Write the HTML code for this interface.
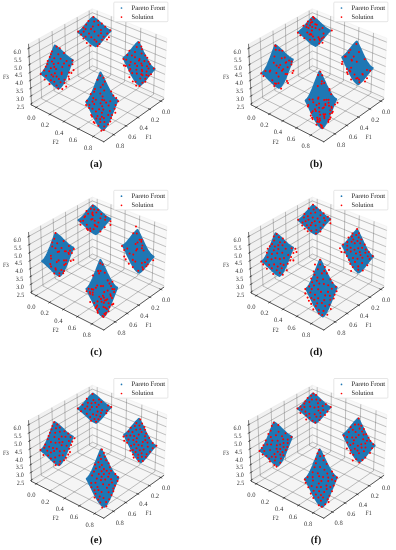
<!DOCTYPE html>
<html><head><meta charset="utf-8"><title>Figure</title>
<style>html,body{margin:0;padding:0;background:#fff}svg{display:block}text{font-family:"Liberation Serif",serif;text-rendering:geometricPrecision}</style>
</head><body>
<svg width="396" height="550" viewBox="0 0 396 550">
<rect width="396" height="550" fill="#fff"/>
<g transform="translate(0.0,0.0)">
<polygon points="92.5,67.2 31.5,105.0 103.8,141.8 163.8,99.0" fill="#f5f5f5" stroke="#e4e4e4" stroke-width="0.4"/>
<polygon points="31.5,105.0 28.5,44.2 92.3,8.8 92.5,67.2" fill="#f1f1f1" stroke="#e4e4e4" stroke-width="0.4"/>
<polygon points="92.5,67.2 92.3,8.8 166.9,38.2 163.8,99.0" fill="#f8f8f8" stroke="#e8e8e8" stroke-width="0.4"/>
<path d="M160.8 101.1 L89.5 69.1 L89.2 10.6 M36.2 107.4 L97.1 69.3 L97.2 10.7 M149.5 109.2 L78.0 76.2 L77.2 17.2 M49.9 114.4 L110.7 75.3 L111.3 16.3 M137.9 117.4 L66.2 83.5 L64.8 24.1 M64.0 121.5 L124.6 81.6 L125.9 22.0 M126.0 125.9 L54.1 91.0 L52.1 31.1 M78.5 128.9 L138.9 87.9 L140.8 27.9 M113.7 134.7 L41.7 98.7 L39.1 38.4 M93.3 136.4 L153.5 94.4 L156.1 34.0 M31.5 103.5 L92.5 65.8 L163.8 97.5 M31.1 95.9 L92.5 58.4 L164.2 89.9 M30.7 88.2 L92.5 51.0 L164.6 82.2 M30.3 80.4 L92.4 43.5 L165.0 74.4 M29.9 72.5 L92.4 35.9 L165.5 66.5 M29.5 64.5 L92.4 28.3 L165.9 58.5 M29.1 56.4 L92.4 20.5 L166.3 50.4 M28.7 48.3 L92.3 12.7 L166.7 42.2" fill="none" stroke="#5c5c5c" stroke-width="0.38" stroke-linejoin="round"/>
<path d="M31.5 105.0 L103.8 141.8 M103.8 141.8 L163.8 99.0" fill="none" stroke="#111" stroke-width="0.7" stroke-linecap="round"/>
<path d="M31.5 105.0 L28.5 44.2" fill="none" stroke="#222" stroke-width="0.55" stroke-linecap="round"/>
<path d="M159.4 100.5 L162.3 101.8 M37.6 106.5 L34.9 108.2 M148.1 108.5 L151.0 109.8 M51.3 113.5 L48.6 115.2 M136.5 116.8 L139.4 118.1 M65.3 120.6 L62.7 122.4 M124.6 125.2 L127.4 126.6 M79.8 128.0 L77.1 129.8 M112.3 133.9 L115.2 135.4 M94.6 135.5 L92.0 137.4 M30.1 47.5 L27.3 49.0 M30.5 55.7 L27.7 57.2 M30.9 63.7 L28.1 65.3 M31.3 71.7 L28.5 73.3 M31.7 79.6 L28.9 81.2 M32.1 87.4 L29.3 89.0 M32.5 95.1 L29.7 96.7 M32.8 102.7 L30.1 104.4" fill="none" stroke="#000" stroke-width="0.55"/>
<g font-size="6.6" text-anchor="middle" fill="#333">
<text x="166.2" y="113.7">0.0</text>
<text x="31.4" y="120.4">0.0</text>
<text x="155.1" y="121.6">0.2</text>
<text x="45.0" y="127.2">0.2</text>
<text x="143.6" y="129.9">0.4</text>
<text x="59.1" y="134.8">0.4</text>
<text x="132.3" y="139.1">0.6</text>
<text x="73.0" y="142.2">0.6</text>
<text x="120.1" y="147.9">0.8</text>
<text x="88.2" y="149.8">0.8</text>
<text x="17.2" y="53.8" textLength="7.6" lengthAdjust="spacingAndGlyphs">6.0</text>
<text x="17.7" y="61.6" textLength="7.6" lengthAdjust="spacingAndGlyphs">5.5</text>
<text x="18.1" y="69.5" textLength="7.6" lengthAdjust="spacingAndGlyphs">5.0</text>
<text x="18.6" y="77.3" textLength="7.6" lengthAdjust="spacingAndGlyphs">4.5</text>
<text x="19.1" y="85.2" textLength="7.6" lengthAdjust="spacingAndGlyphs">4.0</text>
<text x="19.6" y="93.0" textLength="7.6" lengthAdjust="spacingAndGlyphs">3.5</text>
<text x="20.0" y="100.8" textLength="7.6" lengthAdjust="spacingAndGlyphs">3.0</text>
<text x="20.5" y="108.7" textLength="7.6" lengthAdjust="spacingAndGlyphs">2.5</text>
<text x="5.8" y="78.6" textLength="5.8" lengthAdjust="spacingAndGlyphs">F3</text><text x="55.7" y="143.8" textLength="6.2" lengthAdjust="spacingAndGlyphs">F2</text><text x="148.5" y="139.1" textLength="6.2" lengthAdjust="spacingAndGlyphs">F1</text>
</g>
<polygon points="93.0,17.2 91.9,18.1 90.7,19.2 89.6,20.4 88.5,21.7 87.3,23.0 86.2,24.4 85.1,25.7 83.9,27.1 82.8,28.3 81.7,29.5 80.5,30.5 79.4,31.4 78.2,32.2 78.2,32.2 79.5,33.1 80.9,34.1 82.2,35.2 83.6,36.4 84.9,37.7 86.3,39.0 87.7,40.3 89.0,41.5 90.4,42.7 91.7,43.8 93.1,44.7 94.5,45.6 95.8,46.2 95.8,46.2 97.0,45.5 98.1,44.5 99.3,43.5 100.4,42.3 101.5,41.0 102.7,39.6 103.8,38.3 104.9,36.9 106.1,35.5 107.2,34.2 108.3,33.0 109.5,31.9 110.6,30.9 110.6,30.9 109.2,30.2 107.8,29.4 106.5,28.5 105.1,27.4 103.8,26.3 102.4,25.0 101.1,23.8 99.7,22.5 98.4,21.3 97.0,20.1 95.7,19.0 94.3,18.0 93.0,17.2" fill="#1f77b4" stroke="#1f77b4" stroke-width="2.1" stroke-linejoin="round"/>
<polygon points="138.2,42.1 137.1,43.2 136.0,44.3 134.9,45.6 133.7,46.9 132.6,48.3 131.5,49.8 130.3,51.2 129.2,52.6 128.0,53.9 126.9,55.1 125.7,56.2 124.6,57.2 123.5,58.0 123.5,58.0 124.7,60.4 126.0,62.9 127.3,65.5 128.5,68.1 129.8,70.7 131.0,73.3 132.3,75.7 133.6,78.0 134.8,80.0 136.1,81.8 137.4,83.3 138.7,84.4 140.0,85.2 140.0,85.2 141.2,84.3 142.3,83.3 143.4,82.2 144.5,80.9 145.7,79.6 146.8,78.2 147.9,76.7 149.0,75.3 150.2,73.9 151.3,72.5 152.4,71.2 153.5,70.0 154.6,69.0 154.6,69.0 153.3,68.2 152.0,67.1 150.7,65.7 149.4,63.9 148.2,61.9 146.9,59.7 145.7,57.3 144.5,54.7 143.2,52.1 142.0,49.5 140.7,47.0 139.5,44.5 138.2,42.1" fill="#1f77b4" stroke="#1f77b4" stroke-width="2.1" stroke-linejoin="round"/>
<polygon points="54.9,45.5 53.8,48.0 52.8,50.5 51.7,53.2 50.7,55.9 49.7,58.6 48.6,61.2 47.6,63.8 46.5,66.1 45.5,68.2 44.4,70.0 43.3,71.6 42.3,72.8 41.1,73.6 41.1,73.6 42.5,74.6 43.8,75.7 45.2,76.9 46.5,78.1 47.9,79.5 49.3,80.8 50.6,82.1 52.0,83.5 53.4,84.7 54.7,85.9 56.1,86.9 57.4,87.8 58.8,88.5 58.8,88.5 59.9,87.7 61.0,86.4 62.1,84.9 63.2,83.0 64.2,80.9 65.3,78.5 66.3,76.0 67.4,73.3 68.5,70.6 69.5,67.9 70.6,65.2 71.6,62.6 72.7,60.1 72.7,60.1 71.3,59.4 69.9,58.5 68.6,57.5 67.2,56.4 65.8,55.2 64.4,53.9 63.1,52.6 61.7,51.2 60.3,49.9 58.9,48.7 57.6,47.5 56.2,46.5 54.9,45.5" fill="#1f77b4" stroke="#1f77b4" stroke-width="2.1" stroke-linejoin="round"/>
<polygon points="100.5,72.5 99.4,75.1 98.3,77.7 97.2,80.5 96.1,83.3 95.0,86.1 93.9,88.8 92.8,91.4 91.7,93.8 90.6,96.0 89.5,97.9 88.4,99.5 87.3,100.8 86.2,101.7 86.2,101.7 87.6,104.1 88.9,106.7 90.2,109.4 91.5,112.0 92.8,114.7 94.1,117.3 95.4,119.8 96.7,122.1 98.0,124.2 99.3,126.1 100.6,127.6 101.9,128.8 103.3,129.6 103.3,129.6 104.3,128.7 105.4,127.4 106.5,125.8 107.6,123.8 108.7,121.6 109.8,119.2 110.9,116.6 112.0,113.9 113.1,111.1 114.2,108.4 115.3,105.6 116.4,102.9 117.5,100.4 117.5,100.4 116.1,99.6 114.8,98.4 113.5,96.9 112.2,95.1 110.9,93.0 109.6,90.7 108.3,88.2 107.0,85.6 105.7,82.9 104.4,80.2 103.1,77.5 101.8,75.0 100.5,72.5" fill="#1f77b4" stroke="#1f77b4" stroke-width="2.1" stroke-linejoin="round"/>
<path d="M93.4 17.0h0M88.5 21.1h0M94.2 21.4h0M98.1 20.8h0M86.2 24.5h0M92.8 26.5h0M98.4 25.0h0M101.8 23.6h0M83.4 27.6h0M85.6 29.1h0M91.1 29.1h0M105.2 26.8h0M78.2 31.6h0M83.7 31.6h0M94.5 31.6h0M101.0 29.9h0M110.1 30.2h0M89.0 33.6h0M101.0 33.3h0M107.2 33.5h0M81.1 34.4h0M98.4 35.6h0M85.6 36.7h0M91.3 37.3h0M103.6 36.7h0M83.4 38.4h0M108.9 37.3h0M94.5 39.8h0M102.1 39.8h0M107.0 39.5h0M96.4 41.6h0M86.8 43.0h0M90.5 45.8h0M97.6 46.1h0M99.5 44.1h0M56.6 46.6h0M59.8 48.2h0M52.0 51.4h0M64.0 53.1h0M50.9 54.2h0M58.3 54.2h0M49.8 57.0h0M54.3 58.2h0M60.6 58.8h0M72.5 60.5h0M66.6 61.0h0M47.7 61.0h0M52.0 61.4h0M47.3 63.9h0M53.8 63.9h0M58.3 63.3h0M64.0 63.5h0M72.5 64.2h0M69.1 65.6h0M45.8 66.7h0M54.3 67.0h0M62.3 67.0h0M50.9 68.2h0M56.0 69.0h0M44.1 70.5h0M49.2 71.2h0M73.6 70.1h0M61.7 72.4h0M54.9 73.2h0M69.1 72.6h0M71.4 73.0h0M40.7 73.9h0M51.5 74.7h0M61.7 74.1h0M46.1 75.8h0M53.2 76.4h0M56.6 76.6h0M68.5 76.6h0M58.9 79.0h0M69.1 79.0h0M44.7 79.5h0M50.9 80.3h0M64.5 79.8h0M54.3 81.8h0M60.6 82.3h0M49.5 84.1h0M64.5 83.0h0M66.2 86.6h0M56.6 85.5h0M58.3 88.6h0M62.3 89.1h0M139.0 42.4h0M136.8 46.9h0M141.3 46.4h0M129.4 50.7h0M135.0 52.0h0M141.9 49.2h0M141.6 53.5h0M127.3 54.9h0M131.9 55.5h0M145.3 55.5h0M123.5 58.9h0M126.2 59.8h0M135.0 57.2h0M139.6 59.1h0M139.0 60.6h0M147.3 57.7h0M144.4 61.1h0M130.7 62.0h0M148.5 61.7h0M135.0 63.4h0M141.3 63.4h0M149.8 64.0h0M123.9 65.5h0M125.7 65.9h0M129.6 65.1h0M137.1 65.9h0M142.1 65.5h0M147.0 66.2h0M153.8 68.5h0M130.3 69.1h0M129.4 70.8h0M136.4 69.7h0M141.9 69.7h0M148.5 68.5h0M142.1 71.1h0M146.6 71.4h0M132.2 73.1h0M136.8 73.6h0M141.3 74.2h0M142.4 75.3h0M146.4 75.0h0M148.5 75.7h0M151.0 74.2h0M129.4 77.3h0M140.2 78.4h0M145.3 78.8h0M132.8 81.4h0M135.6 81.8h0M142.4 82.7h0M145.3 81.8h0M136.2 85.6h0M139.6 85.9h0M100.3 75.6h0M103.5 77.8h0M97.5 79.7h0M104.8 81.6h0M102.9 84.8h0M100.6 87.3h0M95.0 88.9h0M104.2 90.5h0M94.2 91.8h0M111.1 91.4h0M100.3 93.4h0M90.8 94.1h0M113.3 95.6h0M102.6 96.5h0M93.3 98.1h0M116.2 98.1h0M95.9 99.8h0M102.2 99.8h0M104.2 100.3h0M87.0 100.7h0M92.5 101.6h0M110.3 101.3h0M118.1 101.3h0M100.6 103.2h0M106.1 102.6h0M89.5 104.9h0M86.1 105.1h0M94.2 104.1h0M115.6 104.9h0M108.6 105.5h0M102.2 106.2h0M89.2 107.9h0M92.5 108.7h0M99.1 109.2h0M103.3 109.6h0M114.6 108.7h0M109.9 110.9h0M95.9 111.5h0M101.9 112.8h0M115.3 112.8h0M91.2 115.0h0M92.1 116.6h0M97.5 115.9h0M108.2 115.0h0M112.0 115.0h0M101.9 116.8h0M103.9 118.1h0M96.3 118.5h0M100.1 119.1h0M111.1 118.1h0M93.7 121.9h0M94.6 122.9h0M100.3 121.9h0M104.4 121.9h0M110.3 121.4h0M108.0 124.5h0M98.4 125.7h0M104.2 126.5h0M101.4 130.6h0M103.9 129.9h0" stroke="#f00" stroke-width="2.05" stroke-linecap="round" fill="none"/>
<rect x="113.8" y="2.1" width="54.1" height="19.6" rx="0.9" fill="#fff" fill-opacity="0.8" stroke="#ccc" stroke-width="0.5"/>
<circle cx="121.5" cy="8" r="0.85" fill="#1f77b4"/><circle cx="121.5" cy="17.1" r="0.85" fill="#f00"/>
<g font-size="6.8" fill="#222"><text x="131.6" y="9.8" textLength="33.6" lengthAdjust="spacingAndGlyphs">Pareto Front</text><text x="131.6" y="18.6" textLength="22" lengthAdjust="spacingAndGlyphs">Solution</text></g>
<text x="96.1" y="166.9" font-size="10.5" font-weight="bold" text-anchor="middle" fill="#111">(a)</text>
</g>
<g transform="translate(220.0,0.0)">
<polygon points="92.5,67.2 31.5,105.0 103.8,141.8 163.8,99.0" fill="#f5f5f5" stroke="#e4e4e4" stroke-width="0.4"/>
<polygon points="31.5,105.0 28.5,44.2 92.3,8.8 92.5,67.2" fill="#f1f1f1" stroke="#e4e4e4" stroke-width="0.4"/>
<polygon points="92.5,67.2 92.3,8.8 166.9,38.2 163.8,99.0" fill="#f8f8f8" stroke="#e8e8e8" stroke-width="0.4"/>
<path d="M160.8 101.1 L89.5 69.1 L89.2 10.6 M36.2 107.4 L97.1 69.3 L97.2 10.7 M149.8 109.0 L78.3 76.1 L77.4 17.1 M49.3 114.1 L110.1 75.1 L110.7 16.1 M138.4 117.1 L66.7 83.2 L65.4 23.8 M62.8 120.9 L123.4 81.0 L124.6 21.5 M126.8 125.4 L54.9 90.5 L53.0 30.7 M76.6 127.9 L137.0 87.1 L138.9 27.2 M114.8 133.9 L42.7 98.1 L40.2 37.7 M90.7 135.1 L150.9 93.3 L153.5 32.9 M31.5 103.5 L92.5 65.8 L163.8 97.5 M31.1 95.9 L92.5 58.4 L164.2 89.9 M30.7 88.2 L92.5 51.0 L164.6 82.2 M30.3 80.4 L92.4 43.5 L165.0 74.4 M29.9 72.5 L92.4 35.9 L165.5 66.5 M29.5 64.5 L92.4 28.3 L165.9 58.5 M29.1 56.4 L92.4 20.5 L166.3 50.4 M28.7 48.3 L92.3 12.7 L166.7 42.2" fill="none" stroke="#5c5c5c" stroke-width="0.38" stroke-linejoin="round"/>
<path d="M31.5 105.0 L103.8 141.8 M103.8 141.8 L163.8 99.0" fill="none" stroke="#111" stroke-width="0.7" stroke-linecap="round"/>
<path d="M31.5 105.0 L28.5 44.2" fill="none" stroke="#222" stroke-width="0.55" stroke-linecap="round"/>
<path d="M159.4 100.5 L162.3 101.8 M37.6 106.5 L34.9 108.2 M148.3 108.3 L151.2 109.7 M50.7 113.2 L48.0 114.9 M137.0 116.4 L139.9 117.8 M64.1 120.0 L61.4 121.8 M125.3 124.7 L128.2 126.1 M77.9 127.0 L75.2 128.8 M113.4 133.2 L116.2 134.6 M92.0 134.2 L89.4 136.0 M30.1 47.5 L27.3 49.0 M30.5 55.7 L27.7 57.2 M30.9 63.7 L28.1 65.3 M31.3 71.7 L28.5 73.3 M31.7 79.6 L28.9 81.2 M32.1 87.4 L29.3 89.0 M32.5 95.1 L29.7 96.7 M32.8 102.7 L30.1 104.4" fill="none" stroke="#000" stroke-width="0.55"/>
<g font-size="6.6" text-anchor="middle" fill="#333">
<text x="166.2" y="113.7">0.0</text>
<text x="31.4" y="120.4">0.0</text>
<text x="155.3" y="121.5">0.2</text>
<text x="44.4" y="126.9">0.2</text>
<text x="144.1" y="129.6">0.4</text>
<text x="57.9" y="134.1">0.4</text>
<text x="133.1" y="138.6">0.6</text>
<text x="71.1" y="141.3">0.6</text>
<text x="121.2" y="147.2">0.8</text>
<text x="85.6" y="148.4">0.8</text>
<text x="17.2" y="53.8" textLength="7.6" lengthAdjust="spacingAndGlyphs">6.0</text>
<text x="17.7" y="61.6" textLength="7.6" lengthAdjust="spacingAndGlyphs">5.5</text>
<text x="18.1" y="69.5" textLength="7.6" lengthAdjust="spacingAndGlyphs">5.0</text>
<text x="18.6" y="77.3" textLength="7.6" lengthAdjust="spacingAndGlyphs">4.5</text>
<text x="19.1" y="85.2" textLength="7.6" lengthAdjust="spacingAndGlyphs">4.0</text>
<text x="19.6" y="93.0" textLength="7.6" lengthAdjust="spacingAndGlyphs">3.5</text>
<text x="20.0" y="100.8" textLength="7.6" lengthAdjust="spacingAndGlyphs">3.0</text>
<text x="20.5" y="108.7" textLength="7.6" lengthAdjust="spacingAndGlyphs">2.5</text>
<text x="5.8" y="78.6" textLength="5.8" lengthAdjust="spacingAndGlyphs">F3</text><text x="55.7" y="143.8" textLength="6.2" lengthAdjust="spacingAndGlyphs">F2</text><text x="148.5" y="139.1" textLength="6.2" lengthAdjust="spacingAndGlyphs">F1</text>
</g>
<polygon points="93.0,17.2 91.9,18.1 90.8,19.2 89.7,20.4 88.5,21.7 87.4,23.0 86.3,24.3 85.2,25.7 84.1,27.0 83.0,28.2 81.8,29.4 80.7,30.4 79.6,31.3 78.4,32.1 78.4,32.1 79.7,33.0 81.0,34.0 82.3,35.1 83.7,36.2 85.0,37.5 86.3,38.7 87.6,40.0 88.9,41.2 90.2,42.4 91.5,43.5 92.9,44.4 94.2,45.2 95.5,45.9 95.5,45.9 96.7,45.1 97.8,44.2 98.9,43.1 100.0,42.0 101.1,40.7 102.3,39.3 103.4,38.0 104.5,36.6 105.6,35.3 106.7,34.0 107.8,32.8 108.9,31.7 110.0,30.7 110.0,30.7 108.7,30.0 107.4,29.2 106.1,28.3 104.7,27.3 103.4,26.1 102.1,24.9 100.8,23.7 99.5,22.5 98.2,21.2 96.9,20.1 95.6,19.0 94.3,18.0 93.0,17.2" fill="#1f77b4" stroke="#1f77b4" stroke-width="2.1" stroke-linejoin="round"/>
<polygon points="136.8,41.6 135.7,42.6 134.6,43.7 133.5,45.0 132.4,46.3 131.3,47.7 130.1,49.1 129.0,50.5 127.9,51.9 126.8,53.2 125.6,54.4 124.5,55.5 123.4,56.5 122.3,57.3 122.3,57.3 123.5,59.6 124.7,62.1 125.9,64.7 127.2,67.3 128.4,69.9 129.6,72.4 130.8,74.8 132.0,77.1 133.3,79.1 134.5,80.8 135.8,82.3 137.0,83.4 138.3,84.1 138.3,84.1 139.4,83.3 140.5,82.3 141.6,81.2 142.7,80.0 143.8,78.6 144.9,77.2 146.1,75.8 147.2,74.4 148.3,73.0 149.4,71.6 150.5,70.4 151.6,69.2 152.7,68.1 152.7,68.1 151.4,67.4 150.1,66.3 148.9,64.9 147.7,63.2 146.4,61.2 145.2,59.0 144.0,56.6 142.8,54.1 141.6,51.5 140.4,48.9 139.2,46.4 138.0,43.9 136.8,41.6" fill="#1f77b4" stroke="#1f77b4" stroke-width="2.1" stroke-linejoin="round"/>
<polygon points="55.5,45.2 54.4,47.6 53.4,50.2 52.4,52.8 51.4,55.5 50.4,58.2 49.3,60.8 48.3,63.3 47.3,65.7 46.2,67.7 45.2,69.6 44.1,71.1 43.1,72.3 42.0,73.1 42.0,73.1 43.3,74.1 44.6,75.2 45.9,76.3 47.2,77.6 48.5,78.9 49.8,80.2 51.2,81.5 52.5,82.8 53.8,84.0 55.1,85.2 56.5,86.2 57.8,87.0 59.1,87.8 59.1,87.8 60.2,86.9 61.3,85.7 62.3,84.1 63.4,82.3 64.4,80.2 65.5,77.8 66.5,75.3 67.5,72.7 68.6,69.9 69.6,67.2 70.7,64.5 71.7,62.0 72.7,59.5 72.7,59.5 71.4,58.8 70.1,58.0 68.7,57.0 67.4,55.9 66.1,54.7 64.7,53.4 63.4,52.1 62.1,50.8 60.7,49.5 59.4,48.3 58.1,47.2 56.8,46.1 55.5,45.2" fill="#1f77b4" stroke="#1f77b4" stroke-width="2.1" stroke-linejoin="round"/>
<polygon points="99.6,71.5 98.6,74.0 97.5,76.7 96.4,79.4 95.3,82.2 94.3,85.0 93.2,87.7 92.1,90.3 91.0,92.7 90.0,94.9 88.9,96.8 87.8,98.4 86.7,99.6 85.7,100.5 85.7,100.5 86.9,102.9 88.2,105.4 89.5,108.1 90.7,110.7 92.0,113.4 93.3,116.0 94.5,118.4 95.8,120.7 97.1,122.8 98.3,124.6 99.6,126.1 100.8,127.3 102.1,128.1 102.1,128.1 103.2,127.2 104.3,125.9 105.3,124.3 106.4,122.4 107.5,120.2 108.5,117.8 109.6,115.2 110.7,112.5 111.8,109.8 112.8,107.0 113.9,104.3 115.0,101.6 116.1,99.1 116.1,99.1 114.8,98.3 113.5,97.2 112.2,95.7 111.0,93.9 109.7,91.8 108.5,89.5 107.2,87.1 105.9,84.5 104.7,81.8 103.4,79.1 102.2,76.5 100.9,73.9 99.6,71.5" fill="#1f77b4" stroke="#1f77b4" stroke-width="2.1" stroke-linejoin="round"/>
<path d="M93.0 17.0h0M94.2 18.5h0M91.1 19.7h0M87.9 21.4h0M90.8 22.7h0M92.2 21.9h0M95.3 24.2h0M96.8 24.8h0M83.4 25.7h0M86.8 24.2h0M90.0 25.3h0M86.5 27.0h0M88.5 28.0h0M92.2 27.0h0M95.6 28.0h0M102.5 28.0h0M99.5 29.5h0M91.9 30.5h0M111.8 30.5h0M77.9 32.7h0M87.3 32.5h0M90.8 33.9h0M89.6 34.4h0M91.3 34.8h0M103.6 33.6h0M80.5 35.2h0M93.0 36.4h0M98.4 37.3h0M103.6 37.3h0M84.3 38.2h0M99.3 39.0h0M101.8 38.6h0M90.0 39.8h0M94.5 39.8h0M99.8 40.5h0M99.3 43.5h0M102.5 42.7h0M55.2 45.5h0M55.8 46.2h0M55.8 49.7h0M59.4 50.2h0M62.3 50.8h0M54.5 56.5h0M61.7 58.2h0M64.8 57.6h0M69.1 60.5h0M71.6 61.6h0M53.8 62.7h0M65.7 62.7h0M66.2 62.2h0M71.4 64.4h0M56.6 65.6h0M60.2 65.0h0M58.9 67.5h0M67.6 67.3h0M63.2 69.3h0M62.0 70.7h0M45.5 70.9h0M50.3 70.5h0M49.8 71.6h0M73.4 70.7h0M72.5 73.0h0M41.2 73.3h0M56.4 73.0h0M65.5 73.9h0M67.2 74.1h0M43.5 76.1h0M58.6 76.6h0M52.3 80.3h0M67.0 80.9h0M54.9 83.4h0M56.0 83.8h0M58.5 83.2h0M68.0 83.0h0M54.3 86.0h0M61.1 88.6h0M136.4 43.9h0M130.3 49.8h0M139.0 52.0h0M128.8 52.6h0M125.0 56.6h0M125.7 56.4h0M133.7 56.6h0M144.7 59.2h0M131.6 59.8h0M131.9 60.6h0M136.8 61.7h0M122.3 61.7h0M122.0 64.0h0M131.1 67.7h0M126.9 68.9h0M147.0 70.0h0M150.2 70.8h0M129.6 70.5h0M130.3 71.4h0M127.1 72.3h0M127.7 73.9h0M134.5 74.5h0M142.4 73.9h0M142.8 74.5h0M136.2 78.4h0M137.5 78.0h0M139.0 79.5h0M147.0 78.2h0M131.1 79.5h0M139.4 82.2h0M145.0 81.4h0M100.3 71.8h0M98.1 74.9h0M102.2 75.3h0M101.9 81.2h0M104.2 82.9h0M101.6 83.8h0M97.8 86.1h0M109.5 88.9h0M109.5 90.5h0M111.1 94.3h0M98.4 97.5h0M98.1 98.8h0M89.5 99.4h0M92.7 99.4h0M104.2 100.0h0M106.4 99.8h0M108.6 99.8h0M93.3 102.3h0M108.6 102.8h0M99.1 103.6h0M105.4 103.9h0M117.5 102.8h0M115.0 104.5h0M96.5 105.1h0M105.4 104.9h0M109.0 105.8h0M88.3 104.9h0M87.9 106.4h0M99.1 107.7h0M103.9 107.4h0M102.6 108.3h0M111.5 106.7h0M111.8 107.9h0M95.0 109.2h0M95.9 110.9h0M92.7 111.2h0M110.3 110.2h0M99.3 111.7h0M112.8 111.7h0M91.4 112.8h0M112.0 113.0h0M109.9 113.8h0M100.1 114.7h0M103.5 114.3h0M105.2 114.3h0M90.8 115.6h0M104.2 116.3h0M110.5 117.2h0M92.1 117.8h0M92.7 119.1h0M97.2 117.8h0M99.7 118.5h0M104.4 118.1h0M109.9 118.9h0M97.8 119.8h0M100.1 120.4h0M108.6 120.1h0M97.2 121.7h0M99.1 121.9h0M108.2 121.9h0M96.5 124.8h0M100.6 124.8h0M101.9 125.7h0M101.4 126.7h0M102.6 128.0h0" stroke="#f00" stroke-width="2.05" stroke-linecap="round" fill="none"/>
<rect x="113.8" y="2.1" width="54.1" height="19.6" rx="0.9" fill="#fff" fill-opacity="0.8" stroke="#ccc" stroke-width="0.5"/>
<circle cx="121.5" cy="8" r="0.85" fill="#1f77b4"/><circle cx="121.5" cy="17.1" r="0.85" fill="#f00"/>
<g font-size="6.8" fill="#222"><text x="131.6" y="9.8" textLength="33.6" lengthAdjust="spacingAndGlyphs">Pareto Front</text><text x="131.6" y="18.6" textLength="22" lengthAdjust="spacingAndGlyphs">Solution</text></g>
<text x="96.1" y="166.9" font-size="10.5" font-weight="bold" text-anchor="middle" fill="#111">(b)</text>
</g>
<g transform="translate(0.0,188.2)">
<polygon points="92.5,67.2 31.5,105.0 103.8,141.8 163.8,99.0" fill="#f5f5f5" stroke="#e4e4e4" stroke-width="0.4"/>
<polygon points="31.5,105.0 28.5,44.2 92.3,8.8 92.5,67.2" fill="#f1f1f1" stroke="#e4e4e4" stroke-width="0.4"/>
<polygon points="92.5,67.2 92.3,8.8 166.9,38.2 163.8,99.0" fill="#f8f8f8" stroke="#e8e8e8" stroke-width="0.4"/>
<path d="M160.8 101.1 L89.5 69.1 L89.2 10.6 M36.2 107.4 L97.1 69.3 L97.2 10.7 M149.9 109.0 L78.3 76.0 L77.5 17.1 M49.6 114.2 L110.4 75.2 L111.0 16.2 M138.6 117.0 L66.9 83.1 L65.5 23.7 M63.3 121.2 L124.0 81.3 L125.2 21.8 M127.0 125.2 L55.1 90.4 L53.2 30.5 M77.4 128.4 L137.8 87.5 L139.7 27.5 M115.1 133.7 L43.0 97.9 L40.6 37.5 M91.9 135.7 L152.1 93.8 L154.7 33.4 M31.5 103.5 L92.5 65.8 L163.8 97.5 M31.1 95.9 L92.5 58.4 L164.2 89.9 M30.7 88.2 L92.5 51.0 L164.6 82.2 M30.3 80.4 L92.4 43.5 L165.0 74.4 M29.9 72.5 L92.4 35.9 L165.5 66.5 M29.5 64.5 L92.4 28.3 L165.9 58.5 M29.1 56.4 L92.4 20.5 L166.3 50.4 M28.7 48.3 L92.3 12.7 L166.7 42.2" fill="none" stroke="#5c5c5c" stroke-width="0.38" stroke-linejoin="round"/>
<path d="M31.5 105.0 L103.8 141.8 M103.8 141.8 L163.8 99.0" fill="none" stroke="#111" stroke-width="0.7" stroke-linecap="round"/>
<path d="M31.5 105.0 L28.5 44.2" fill="none" stroke="#222" stroke-width="0.55" stroke-linecap="round"/>
<path d="M159.4 100.5 L162.3 101.8 M37.6 106.5 L34.9 108.2 M148.4 108.3 L151.3 109.6 M50.9 113.3 L48.3 115.1 M137.1 116.3 L140.0 117.7 M64.7 120.3 L62.0 122.1 M125.6 124.5 L128.5 125.9 M78.7 127.5 L76.1 129.3 M113.7 133.0 L116.6 134.4 M93.2 134.8 L90.6 136.6 M30.1 47.5 L27.3 49.0 M30.5 55.7 L27.7 57.2 M30.9 63.7 L28.1 65.3 M31.3 71.7 L28.5 73.3 M31.7 79.6 L28.9 81.2 M32.1 87.4 L29.3 89.0 M32.5 95.1 L29.7 96.7 M32.8 102.7 L30.1 104.4" fill="none" stroke="#000" stroke-width="0.55"/>
<g font-size="6.6" text-anchor="middle" fill="#333">
<text x="166.2" y="113.7">0.0</text>
<text x="31.4" y="120.4">0.0</text>
<text x="155.4" y="121.4">0.2</text>
<text x="44.7" y="127.1">0.2</text>
<text x="144.3" y="129.5">0.4</text>
<text x="58.4" y="134.4">0.4</text>
<text x="133.3" y="138.4">0.6</text>
<text x="72.0" y="141.7">0.6</text>
<text x="121.5" y="147.0">0.8</text>
<text x="86.8" y="149.0">0.8</text>
<text x="17.2" y="53.8" textLength="7.6" lengthAdjust="spacingAndGlyphs">6.0</text>
<text x="17.7" y="61.6" textLength="7.6" lengthAdjust="spacingAndGlyphs">5.5</text>
<text x="18.1" y="69.5" textLength="7.6" lengthAdjust="spacingAndGlyphs">5.0</text>
<text x="18.6" y="77.3" textLength="7.6" lengthAdjust="spacingAndGlyphs">4.5</text>
<text x="19.1" y="85.2" textLength="7.6" lengthAdjust="spacingAndGlyphs">4.0</text>
<text x="19.6" y="93.0" textLength="7.6" lengthAdjust="spacingAndGlyphs">3.5</text>
<text x="20.0" y="100.8" textLength="7.6" lengthAdjust="spacingAndGlyphs">3.0</text>
<text x="20.5" y="108.7" textLength="7.6" lengthAdjust="spacingAndGlyphs">2.5</text>
<text x="5.8" y="78.6" textLength="5.8" lengthAdjust="spacingAndGlyphs">F3</text><text x="55.7" y="143.8" textLength="6.2" lengthAdjust="spacingAndGlyphs">F2</text><text x="148.5" y="139.1" textLength="6.2" lengthAdjust="spacingAndGlyphs">F1</text>
</g>
<polygon points="93.0,17.2 91.9,18.1 90.8,19.2 89.7,20.4 88.6,21.7 87.5,23.0 86.3,24.3 85.2,25.7 84.1,27.0 83.0,28.2 81.9,29.4 80.8,30.4 79.6,31.3 78.5,32.0 78.5,32.0 79.8,32.9 81.1,33.9 82.5,35.0 83.8,36.2 85.1,37.5 86.5,38.7 87.8,40.0 89.1,41.3 90.5,42.4 91.8,43.5 93.1,44.5 94.5,45.3 95.8,45.9 95.8,45.9 97.0,45.2 98.1,44.3 99.2,43.2 100.3,42.0 101.4,40.8 102.5,39.4 103.7,38.1 104.8,36.7 105.9,35.4 107.0,34.1 108.1,32.9 109.2,31.8 110.3,30.8 110.3,30.8 108.9,30.1 107.6,29.3 106.3,28.4 104.9,27.3 103.6,26.2 102.3,25.0 100.9,23.7 99.6,22.5 98.3,21.3 96.9,20.1 95.6,19.0 94.3,18.0 93.0,17.2" fill="#1f77b4" stroke="#1f77b4" stroke-width="2.1" stroke-linejoin="round"/>
<polygon points="137.5,41.8 136.4,42.9 135.3,44.0 134.2,45.2 133.0,46.6 131.9,47.9 130.8,49.4 129.7,50.8 128.6,52.1 127.5,53.5 126.3,54.7 125.2,55.8 124.1,56.7 123.0,57.5 123.0,57.5 124.2,59.9 125.5,62.4 126.7,64.9 127.9,67.6 129.2,70.2 130.4,72.7 131.7,75.1 132.9,77.4 134.2,79.4 135.4,81.2 136.7,82.6 138.0,83.7 139.2,84.5 139.2,84.5 140.3,83.7 141.4,82.7 142.5,81.6 143.7,80.3 144.8,79.0 145.9,77.6 147.0,76.2 148.1,74.7 149.2,73.3 150.3,72.0 151.4,70.7 152.5,69.6 153.5,68.5 153.5,68.5 152.3,67.8 151.0,66.7 149.7,65.2 148.5,63.5 147.2,61.5 146.0,59.3 144.8,56.9 143.6,54.4 142.4,51.8 141.1,49.2 139.9,46.6 138.7,44.2 137.5,41.8" fill="#1f77b4" stroke="#1f77b4" stroke-width="2.1" stroke-linejoin="round"/>
<polygon points="55.6,45.1 54.6,47.5 53.6,50.1 52.6,52.7 51.6,55.4 50.6,58.1 49.5,60.7 48.5,63.2 47.5,65.5 46.5,67.6 45.4,69.4 44.4,71.0 43.3,72.2 42.2,73.0 42.2,73.0 43.5,74.0 44.8,75.0 46.2,76.2 47.5,77.5 48.8,78.8 50.2,80.1 51.5,81.4 52.9,82.7 54.2,84.0 55.6,85.1 56.9,86.1 58.2,87.0 59.6,87.7 59.6,87.7 60.7,86.9 61.7,85.7 62.8,84.1 63.8,82.3 64.9,80.1 65.9,77.8 67.0,75.3 68.0,72.6 69.0,69.9 70.0,67.2 71.1,64.5 72.1,62.0 73.2,59.5 73.2,59.5 71.8,58.8 70.5,58.0 69.1,57.0 67.7,55.8 66.4,54.6 65.0,53.4 63.7,52.0 62.3,50.7 61.0,49.4 59.6,48.2 58.3,47.1 57.0,46.0 55.6,45.1" fill="#1f77b4" stroke="#1f77b4" stroke-width="2.1" stroke-linejoin="round"/>
<polygon points="100.4,71.7 99.4,74.2 98.3,76.9 97.2,79.6 96.2,82.4 95.1,85.2 94.0,87.9 93.0,90.4 91.9,92.8 90.8,95.0 89.8,96.9 88.7,98.5 87.6,99.8 86.5,100.7 86.5,100.7 87.8,103.1 89.1,105.6 90.4,108.3 91.7,110.9 93.0,113.6 94.2,116.2 95.5,118.7 96.8,121.0 98.1,123.0 99.4,124.8 100.6,126.4 101.9,127.5 103.2,128.4 103.2,128.4 104.3,127.4 105.4,126.2 106.4,124.6 107.5,122.6 108.5,120.5 109.6,118.1 110.7,115.5 111.8,112.8 112.8,110.1 113.9,107.3 115.0,104.6 116.1,101.9 117.1,99.4 117.1,99.4 115.8,98.6 114.5,97.5 113.2,96.0 112.0,94.2 110.7,92.1 109.4,89.8 108.1,87.3 106.8,84.7 105.6,82.0 104.3,79.3 103.0,76.7 101.7,74.1 100.4,71.7" fill="#1f77b4" stroke="#1f77b4" stroke-width="2.1" stroke-linejoin="round"/>
<path d="M92.7 17.5h0M90.8 20.6h0M94.2 21.2h0M98.1 21.7h0M86.5 22.9h0M92.5 24.3h0M92.2 25.7h0M96.4 24.3h0M88.1 25.5h0M93.0 27.1h0M101.3 25.7h0M85.1 28.0h0M84.5 29.1h0M105.5 28.6h0M100.4 30.0h0M92.5 30.8h0M91.3 31.2h0M105.2 31.6h0M83.1 32.5h0M80.5 33.1h0M94.7 32.5h0M110.4 33.1h0M98.4 34.2h0M80.5 36.5h0M86.8 36.5h0M94.7 36.5h0M95.3 37.6h0M97.2 38.4h0M110.4 36.8h0M104.7 39.1h0M86.8 40.5h0M90.2 40.3h0M93.6 41.1h0M87.9 41.8h0M100.4 43.3h0M90.4 42.8h0M55.5 44.9h0M54.3 50.6h0M63.6 52.9h0M52.3 54.3h0M57.2 55.1h0M52.3 58.2h0M68.9 57.8h0M55.5 60.0h0M61.5 59.7h0M73.9 60.8h0M57.7 63.7h0M59.1 63.4h0M64.8 63.1h0M65.9 63.1h0M70.0 62.5h0M68.5 64.6h0M68.9 65.7h0M71.9 64.8h0M50.9 67.6h0M51.1 70.3h0M58.6 72.2h0M64.0 72.2h0M66.2 72.2h0M56.8 73.9h0M70.8 72.8h0M73.4 71.8h0M50.3 75.9h0M65.9 75.6h0M64.3 76.7h0M51.1 78.4h0M55.5 80.1h0M55.8 81.6h0M61.4 81.8h0M64.0 82.8h0M54.3 85.3h0M59.4 85.0h0M63.2 85.0h0M59.4 87.8h0M136.0 38.2h0M133.3 45.0h0M136.8 45.3h0M139.6 51.6h0M141.6 51.6h0M141.3 53.6h0M137.5 54.3h0M135.6 55.8h0M142.4 57.3h0M122.0 57.8h0M127.3 60.4h0M141.9 60.0h0M137.1 60.7h0M136.2 62.3h0M124.2 61.8h0M143.6 62.3h0M129.6 65.3h0M133.3 66.4h0M124.2 68.3h0M125.7 71.2h0M132.8 71.7h0M147.5 71.2h0M153.2 72.1h0M135.3 73.4h0M145.0 74.0h0M141.9 74.8h0M128.8 75.5h0M147.8 76.3h0M146.4 78.0h0M132.8 78.9h0M142.4 79.1h0M143.0 81.2h0M138.2 82.5h0M100.3 75.1h0M102.6 76.3h0M98.1 82.7h0M100.6 82.7h0M99.1 85.2h0M104.8 84.6h0M93.0 87.4h0M107.7 92.2h0M112.4 93.5h0M109.5 95.4h0M97.2 97.3h0M101.0 97.9h0M103.1 97.9h0M111.1 97.9h0M95.9 99.6h0M88.6 100.5h0M91.7 100.9h0M93.3 101.4h0M112.4 100.9h0M114.3 101.1h0M86.6 103.0h0M107.7 102.4h0M89.9 103.9h0M92.7 104.3h0M104.2 103.9h0M114.1 103.9h0M90.2 105.6h0M92.7 106.5h0M110.3 106.2h0M102.9 107.5h0M110.8 107.7h0M99.3 108.5h0M103.9 109.4h0M112.0 109.8h0M101.0 110.7h0M107.3 111.0h0M106.1 111.9h0M104.8 112.3h0M97.5 113.2h0M101.6 113.6h0M90.2 113.8h0M103.9 114.5h0M94.2 114.8h0M108.6 115.1h0M113.3 115.7h0M112.0 116.6h0M97.2 117.4h0M96.3 118.7h0M103.5 118.7h0M109.5 118.7h0M95.5 119.9h0M105.4 119.6h0M99.1 120.8h0M106.9 120.8h0M97.5 122.7h0M108.6 123.0h0M97.8 124.6h0M106.1 124.6h0M104.4 125.5h0M105.4 126.5h0M102.6 127.8h0M103.5 128.8h0" stroke="#f00" stroke-width="2.05" stroke-linecap="round" fill="none"/>
<rect x="113.8" y="2.1" width="54.1" height="19.6" rx="0.9" fill="#fff" fill-opacity="0.8" stroke="#ccc" stroke-width="0.5"/>
<circle cx="121.5" cy="8" r="0.85" fill="#1f77b4"/><circle cx="121.5" cy="17.1" r="0.85" fill="#f00"/>
<g font-size="6.8" fill="#222"><text x="131.6" y="9.8" textLength="33.6" lengthAdjust="spacingAndGlyphs">Pareto Front</text><text x="131.6" y="18.6" textLength="22" lengthAdjust="spacingAndGlyphs">Solution</text></g>
<text x="96.1" y="166.9" font-size="10.5" font-weight="bold" text-anchor="middle" fill="#111">(c)</text>
</g>
<g transform="translate(220.0,188.2)">
<polygon points="92.5,67.2 31.5,105.0 103.8,141.8 163.8,99.0" fill="#f5f5f5" stroke="#e4e4e4" stroke-width="0.4"/>
<polygon points="31.5,105.0 28.5,44.2 92.3,8.8 92.5,67.2" fill="#f1f1f1" stroke="#e4e4e4" stroke-width="0.4"/>
<polygon points="92.5,67.2 92.3,8.8 166.9,38.2 163.8,99.0" fill="#f8f8f8" stroke="#e8e8e8" stroke-width="0.4"/>
<path d="M160.8 101.1 L89.5 69.1 L89.2 10.6 M36.2 107.4 L97.1 69.3 L97.2 10.7 M149.8 109.0 L78.3 76.0 L77.5 17.1 M49.5 114.1 L110.3 75.1 L110.9 16.1 M138.6 117.0 L66.8 83.1 L65.5 23.7 M63.1 121.0 L123.7 81.1 L124.9 21.7 M127.0 125.2 L55.1 90.4 L53.2 30.6 M77.0 128.1 L137.4 87.3 L139.3 27.3 M115.1 133.7 L43.0 97.9 L40.5 37.6 M91.3 135.4 L151.5 93.6 L154.1 33.1 M31.5 103.5 L92.5 65.8 L163.8 97.5 M31.1 95.9 L92.5 58.4 L164.2 89.9 M30.7 88.2 L92.5 51.0 L164.6 82.2 M30.3 80.4 L92.4 43.5 L165.0 74.4 M29.9 72.5 L92.4 35.9 L165.5 66.5 M29.5 64.5 L92.4 28.3 L165.9 58.5 M29.1 56.4 L92.4 20.5 L166.3 50.4 M28.7 48.3 L92.3 12.7 L166.7 42.2" fill="none" stroke="#5c5c5c" stroke-width="0.38" stroke-linejoin="round"/>
<path d="M31.5 105.0 L103.8 141.8 M103.8 141.8 L163.8 99.0" fill="none" stroke="#111" stroke-width="0.7" stroke-linecap="round"/>
<path d="M31.5 105.0 L28.5 44.2" fill="none" stroke="#222" stroke-width="0.55" stroke-linecap="round"/>
<path d="M159.4 100.5 L162.3 101.8 M37.6 106.5 L34.9 108.2 M148.4 108.3 L151.3 109.6 M50.8 113.3 L48.1 115.0 M137.1 116.3 L140.0 117.7 M64.4 120.2 L61.7 121.9 M125.5 124.5 L128.4 125.9 M78.3 127.2 L75.7 129.0 M113.6 133.0 L116.5 134.4 M92.6 134.5 L90.0 136.3 M30.1 47.5 L27.3 49.0 M30.5 55.7 L27.7 57.2 M30.9 63.7 L28.1 65.3 M31.3 71.7 L28.5 73.3 M31.7 79.6 L28.9 81.2 M32.1 87.4 L29.3 89.0 M32.5 95.1 L29.7 96.7 M32.8 102.7 L30.1 104.4" fill="none" stroke="#000" stroke-width="0.55"/>
<g font-size="6.6" text-anchor="middle" fill="#333">
<text x="166.2" y="113.7">0.0</text>
<text x="31.4" y="120.4">0.0</text>
<text x="155.4" y="121.4">0.2</text>
<text x="44.5" y="127.0">0.2</text>
<text x="144.2" y="129.5">0.4</text>
<text x="58.2" y="134.3">0.4</text>
<text x="133.3" y="138.5">0.6</text>
<text x="71.5" y="141.5">0.6</text>
<text x="121.4" y="147.0">0.8</text>
<text x="86.2" y="148.7">0.8</text>
<text x="17.2" y="53.8" textLength="7.6" lengthAdjust="spacingAndGlyphs">6.0</text>
<text x="17.7" y="61.6" textLength="7.6" lengthAdjust="spacingAndGlyphs">5.5</text>
<text x="18.1" y="69.5" textLength="7.6" lengthAdjust="spacingAndGlyphs">5.0</text>
<text x="18.6" y="77.3" textLength="7.6" lengthAdjust="spacingAndGlyphs">4.5</text>
<text x="19.1" y="85.2" textLength="7.6" lengthAdjust="spacingAndGlyphs">4.0</text>
<text x="19.6" y="93.0" textLength="7.6" lengthAdjust="spacingAndGlyphs">3.5</text>
<text x="20.0" y="100.8" textLength="7.6" lengthAdjust="spacingAndGlyphs">3.0</text>
<text x="20.5" y="108.7" textLength="7.6" lengthAdjust="spacingAndGlyphs">2.5</text>
<text x="5.8" y="78.6" textLength="5.8" lengthAdjust="spacingAndGlyphs">F3</text><text x="55.7" y="143.8" textLength="6.2" lengthAdjust="spacingAndGlyphs">F2</text><text x="148.5" y="139.1" textLength="6.2" lengthAdjust="spacingAndGlyphs">F1</text>
</g>
<polygon points="93.0,17.2 91.9,18.1 90.8,19.2 89.7,20.4 88.6,21.7 87.5,23.0 86.3,24.3 85.2,25.7 84.1,27.0 83.0,28.2 81.9,29.4 80.7,30.4 79.6,31.3 78.5,32.0 78.5,32.0 79.8,32.9 81.1,33.9 82.4,35.0 83.7,36.2 85.1,37.5 86.4,38.7 87.7,40.0 89.0,41.2 90.4,42.4 91.7,43.5 93.0,44.4 94.4,45.2 95.7,45.9 95.7,45.9 96.8,45.1 97.9,44.2 99.1,43.2 100.2,42.0 101.3,40.7 102.4,39.4 103.5,38.0 104.6,36.6 105.7,35.3 106.9,34.0 108.0,32.8 109.1,31.7 110.2,30.7 110.2,30.7 108.8,30.1 107.5,29.3 106.2,28.4 104.8,27.3 103.5,26.2 102.2,25.0 100.9,23.7 99.5,22.5 98.2,21.3 96.9,20.1 95.6,19.0 94.3,18.0 93.0,17.2" fill="#1f77b4" stroke="#1f77b4" stroke-width="2.1" stroke-linejoin="round"/>
<polygon points="137.1,41.7 136.0,42.7 134.9,43.9 133.8,45.1 132.7,46.4 131.6,47.8 130.5,49.2 129.4,50.6 128.2,52.0 127.1,53.3 126.0,54.5 124.9,55.6 123.8,56.6 122.6,57.4 122.6,57.4 123.9,59.7 125.1,62.2 126.3,64.8 127.6,67.4 128.8,70.0 130.0,72.6 131.3,75.0 132.5,77.2 133.7,79.2 135.0,81.0 136.2,82.4 137.5,83.6 138.8,84.3 138.8,84.3 139.9,83.5 141.0,82.5 142.1,81.4 143.2,80.2 144.3,78.8 145.4,77.4 146.5,76.0 147.6,74.6 148.7,73.2 149.8,71.8 150.9,70.5 152.0,69.4 153.1,68.3 153.1,68.3 151.8,67.6 150.6,66.5 149.3,65.1 148.1,63.3 146.8,61.3 145.6,59.1 144.4,56.7 143.2,54.2 142.0,51.6 140.8,49.0 139.6,46.5 138.4,44.0 137.1,41.7" fill="#1f77b4" stroke="#1f77b4" stroke-width="2.1" stroke-linejoin="round"/>
<polygon points="55.6,45.1 54.6,47.5 53.6,50.1 52.6,52.8 51.5,55.4 50.5,58.1 49.5,60.7 48.5,63.2 47.5,65.5 46.4,67.6 45.4,69.5 44.3,71.0 43.3,72.2 42.2,73.0 42.2,73.0 43.5,74.0 44.8,75.1 46.1,76.2 47.4,77.5 48.8,78.8 50.1,80.1 51.4,81.4 52.8,82.7 54.1,83.9 55.4,85.1 56.8,86.1 58.1,87.0 59.4,87.7 59.4,87.7 60.5,86.8 61.6,85.6 62.6,84.1 63.7,82.2 64.7,80.1 65.8,77.8 66.8,75.2 67.8,72.6 68.9,69.9 69.9,67.2 70.9,64.5 72.0,61.9 73.0,59.5 73.0,59.5 71.7,58.8 70.3,57.9 69.0,56.9 67.6,55.8 66.3,54.6 64.9,53.3 63.6,52.0 62.3,50.7 60.9,49.4 59.6,48.2 58.3,47.1 56.9,46.0 55.6,45.1" fill="#1f77b4" stroke="#1f77b4" stroke-width="2.1" stroke-linejoin="round"/>
<polygon points="100.1,71.6 99.0,74.1 98.0,76.8 96.9,79.5 95.8,82.3 94.7,85.0 93.7,87.7 92.6,90.3 91.5,92.7 90.5,94.9 89.4,96.8 88.3,98.4 87.3,99.6 86.2,100.5 86.2,100.5 87.4,102.9 88.7,105.5 90.0,108.1 91.3,110.8 92.6,113.4 93.8,116.0 95.1,118.5 96.4,120.8 97.6,122.9 98.9,124.7 100.2,126.2 101.5,127.4 102.8,128.2 102.8,128.2 103.8,127.3 104.9,126.0 105.9,124.4 107.0,122.5 108.1,120.3 109.1,117.9 110.2,115.3 111.3,112.6 112.4,109.9 113.4,107.1 114.5,104.4 115.6,101.7 116.7,99.2 116.7,99.2 115.4,98.4 114.1,97.3 112.8,95.8 111.5,94.0 110.3,91.9 109.0,89.6 107.7,87.1 106.5,84.5 105.2,81.9 103.9,79.2 102.6,76.6 101.4,74.0 100.1,71.6" fill="#1f77b4" stroke="#1f77b4" stroke-width="2.1" stroke-linejoin="round"/>
<path d="M93.0 16.6h0M88.8 20.3h0M93.6 21.2h0M96.4 19.5h0M100.2 22.1h0M90.8 25.1h0M95.3 24.3h0M84.5 25.7h0M103.6 25.1h0M87.9 28.0h0M100.4 27.1h0M107.8 28.6h0M83.9 29.3h0M92.7 29.3h0M97.6 30.3h0M104.0 29.7h0M78.2 31.6h0M88.5 31.6h0M105.0 32.3h0M110.1 31.4h0M85.6 33.1h0M94.7 33.1h0M99.5 33.7h0M82.5 34.2h0M91.9 34.6h0M110.4 35.0h0M86.8 37.1h0M90.8 37.1h0M95.6 37.3h0M103.6 36.5h0M82.2 37.3h0M100.6 39.6h0M88.8 39.6h0M84.7 40.5h0M96.4 41.8h0M91.3 42.5h0M87.7 43.0h0M100.4 43.3h0M96.1 45.3h0M56.6 45.7h0M53.8 48.3h0M58.9 49.1h0M62.8 50.3h0M54.1 52.3h0M60.0 54.0h0M64.8 54.0h0M52.0 55.9h0M58.3 57.1h0M62.5 57.1h0M49.8 58.0h0M54.9 58.2h0M71.6 60.0h0M47.7 60.5h0M58.3 60.8h0M65.7 60.5h0M75.3 60.5h0M53.8 62.0h0M76.5 63.7h0M46.9 64.6h0M57.2 65.0h0M62.3 64.6h0M73.4 64.8h0M52.0 65.7h0M68.2 66.8h0M47.7 69.1h0M55.5 69.9h0M64.0 69.9h0M71.1 68.8h0M59.8 70.7h0M51.5 71.1h0M70.2 72.2h0M73.4 72.2h0M41.2 73.3h0M46.1 73.0h0M54.1 76.2h0M60.6 75.6h0M67.7 75.6h0M43.2 76.2h0M49.2 76.7h0M63.6 76.7h0M57.7 78.4h0M51.8 80.1h0M46.9 80.5h0M61.7 80.1h0M56.8 82.1h0M66.8 82.1h0M59.8 84.7h0M53.2 85.8h0M62.8 86.6h0M137.1 40.7h0M132.5 45.3h0M139.0 45.0h0M136.2 46.7h0M128.5 49.3h0M131.9 48.4h0M138.7 49.3h0M133.3 51.3h0M141.3 51.3h0M127.3 53.9h0M131.6 53.6h0M137.5 52.8h0M134.8 55.0h0M140.2 55.0h0M123.1 56.4h0M144.7 56.4h0M120.0 60.0h0M127.3 57.5h0M130.7 59.6h0M138.2 60.0h0M142.1 59.6h0M127.3 61.5h0M134.5 61.5h0M145.8 61.2h0M121.4 63.8h0M124.6 64.1h0M130.7 63.4h0M139.8 63.8h0M148.9 63.8h0M136.0 65.3h0M145.3 64.6h0M140.5 66.8h0M126.9 67.8h0M147.8 68.0h0M152.7 67.8h0M133.0 69.8h0M142.4 69.5h0M137.5 70.6h0M129.1 71.7h0M149.6 70.9h0M135.0 73.7h0M142.1 74.8h0M130.3 75.7h0M147.3 77.1h0M138.2 78.2h0M132.8 78.9h0M138.2 81.6h0M142.8 82.3h0M131.1 82.8h0M100.1 71.6h0M95.0 76.3h0M100.1 76.3h0M104.8 78.9h0M109.0 81.8h0M97.8 81.0h0M104.2 82.7h0M93.7 83.3h0M101.9 85.2h0M106.9 85.2h0M94.6 86.5h0M97.5 89.4h0M103.1 91.0h0M91.2 90.3h0M96.8 92.5h0M110.3 91.2h0M92.1 94.1h0M99.3 95.4h0M103.9 95.8h0M112.4 94.5h0M94.0 97.3h0M108.2 97.1h0M89.2 98.3h0M115.8 98.6h0M85.3 100.9h0M91.7 100.9h0M98.1 101.1h0M111.8 100.5h0M101.0 103.7h0M108.0 103.7h0M116.6 103.0h0M90.4 104.3h0M85.3 105.2h0M95.0 106.5h0M105.2 107.2h0M109.9 107.5h0M114.6 106.5h0M87.6 109.4h0M91.4 109.8h0M98.1 110.0h0M113.7 110.3h0M94.2 111.5h0M104.2 111.9h0M110.3 111.5h0M88.9 112.6h0M97.2 115.1h0M101.9 114.8h0M91.2 115.7h0M109.5 116.6h0M95.9 117.9h0M105.2 117.9h0M110.8 120.8h0M93.3 121.2h0M98.8 121.7h0M103.5 122.7h0M98.8 125.3h0M102.2 126.8h0M107.3 126.5h0" stroke="#f00" stroke-width="2.05" stroke-linecap="round" fill="none"/>
<rect x="113.8" y="2.1" width="54.1" height="19.6" rx="0.9" fill="#fff" fill-opacity="0.8" stroke="#ccc" stroke-width="0.5"/>
<circle cx="121.5" cy="8" r="0.85" fill="#1f77b4"/><circle cx="121.5" cy="17.1" r="0.85" fill="#f00"/>
<g font-size="6.8" fill="#222"><text x="131.6" y="9.8" textLength="33.6" lengthAdjust="spacingAndGlyphs">Pareto Front</text><text x="131.6" y="18.6" textLength="22" lengthAdjust="spacingAndGlyphs">Solution</text></g>
<text x="96.1" y="166.9" font-size="10.5" font-weight="bold" text-anchor="middle" fill="#111">(d)</text>
</g>
<g transform="translate(0.0,376.4)">
<polygon points="92.5,67.2 31.5,105.0 103.8,141.8 163.8,99.0" fill="#f5f5f5" stroke="#e4e4e4" stroke-width="0.4"/>
<polygon points="31.5,105.0 28.5,44.2 92.3,8.8 92.5,67.2" fill="#f1f1f1" stroke="#e4e4e4" stroke-width="0.4"/>
<polygon points="92.5,67.2 92.3,8.8 166.9,38.2 163.8,99.0" fill="#f8f8f8" stroke="#e8e8e8" stroke-width="0.4"/>
<path d="M160.8 101.1 L89.5 69.1 L89.2 10.6 M36.2 107.4 L97.1 69.3 L97.2 10.7 M149.5 109.2 L77.9 76.3 L77.1 17.3 M50.3 114.5 L111.0 75.5 L111.7 16.5 M137.8 117.6 L66.0 83.6 L64.7 24.2 M64.7 121.9 L125.3 81.8 L126.6 22.3 M125.8 126.1 L53.8 91.2 L51.9 31.3 M79.5 129.4 L139.9 88.4 L141.9 28.3 M113.4 134.9 L41.3 99.0 L38.7 38.6 M94.7 137.2 L154.9 95.1 L157.6 34.5 M31.5 103.5 L92.5 65.8 L163.8 97.5 M31.1 95.9 L92.5 58.4 L164.2 89.9 M30.7 88.2 L92.5 51.0 L164.6 82.2 M30.3 80.4 L92.4 43.5 L165.0 74.4 M29.9 72.5 L92.4 35.9 L165.5 66.5 M29.5 64.5 L92.4 28.3 L165.9 58.5 M29.1 56.4 L92.4 20.5 L166.3 50.4 M28.7 48.3 L92.3 12.7 L166.7 42.2" fill="none" stroke="#5c5c5c" stroke-width="0.38" stroke-linejoin="round"/>
<path d="M31.5 105.0 L103.8 141.8 M103.8 141.8 L163.8 99.0" fill="none" stroke="#111" stroke-width="0.7" stroke-linecap="round"/>
<path d="M31.5 105.0 L28.5 44.2" fill="none" stroke="#222" stroke-width="0.55" stroke-linecap="round"/>
<path d="M159.4 100.5 L162.3 101.8 M37.6 106.5 L34.9 108.2 M148.0 108.6 L150.9 109.9 M51.6 113.7 L48.9 115.4 M136.3 116.9 L139.2 118.2 M66.0 121.0 L63.3 122.8 M124.3 125.4 L127.2 126.8 M80.8 128.5 L78.2 130.3 M112.0 134.2 L114.8 135.6 M96.0 136.2 L93.4 138.1 M30.1 47.5 L27.3 49.0 M30.5 55.7 L27.7 57.2 M30.9 63.7 L28.1 65.3 M31.3 71.7 L28.5 73.3 M31.7 79.6 L28.9 81.2 M32.1 87.4 L29.3 89.0 M32.5 95.1 L29.7 96.7 M32.8 102.7 L30.1 104.4" fill="none" stroke="#000" stroke-width="0.55"/>
<g font-size="6.6" text-anchor="middle" fill="#333">
<text x="166.2" y="113.7">0.0</text>
<text x="31.4" y="120.4">0.0</text>
<text x="155.0" y="121.7">0.2</text>
<text x="45.3" y="127.4">0.2</text>
<text x="143.4" y="130.1">0.4</text>
<text x="59.8" y="135.1">0.4</text>
<text x="132.1" y="139.3">0.6</text>
<text x="74.0" y="142.8">0.6</text>
<text x="119.8" y="148.2">0.8</text>
<text x="89.6" y="150.5">0.8</text>
<text x="17.2" y="53.8" textLength="7.6" lengthAdjust="spacingAndGlyphs">6.0</text>
<text x="17.7" y="61.6" textLength="7.6" lengthAdjust="spacingAndGlyphs">5.5</text>
<text x="18.1" y="69.5" textLength="7.6" lengthAdjust="spacingAndGlyphs">5.0</text>
<text x="18.6" y="77.3" textLength="7.6" lengthAdjust="spacingAndGlyphs">4.5</text>
<text x="19.1" y="85.2" textLength="7.6" lengthAdjust="spacingAndGlyphs">4.0</text>
<text x="19.6" y="93.0" textLength="7.6" lengthAdjust="spacingAndGlyphs">3.5</text>
<text x="20.0" y="100.8" textLength="7.6" lengthAdjust="spacingAndGlyphs">3.0</text>
<text x="20.5" y="108.7" textLength="7.6" lengthAdjust="spacingAndGlyphs">2.5</text>
<text x="5.8" y="78.6" textLength="5.8" lengthAdjust="spacingAndGlyphs">F3</text><text x="55.7" y="143.8" textLength="6.2" lengthAdjust="spacingAndGlyphs">F2</text><text x="148.5" y="139.1" textLength="6.2" lengthAdjust="spacingAndGlyphs">F1</text>
</g>
<polygon points="93.0,17.2 91.9,18.2 90.7,19.2 89.6,20.4 88.5,21.7 87.3,23.1 86.2,24.4 85.0,25.8 83.9,27.1 82.7,28.4 81.6,29.5 80.5,30.6 79.3,31.5 78.1,32.2 78.1,32.2 79.5,33.1 80.9,34.2 82.2,35.3 83.6,36.5 85.0,37.8 86.4,39.1 87.7,40.4 89.1,41.6 90.5,42.8 91.9,43.9 93.3,44.9 94.7,45.7 96.1,46.4 96.1,46.4 97.2,45.6 98.4,44.7 99.5,43.6 100.7,42.4 101.8,41.1 102.9,39.8 104.1,38.4 105.2,37.0 106.3,35.7 107.5,34.4 108.6,33.1 109.7,32.0 110.9,31.0 110.9,31.0 109.5,30.3 108.1,29.5 106.7,28.6 105.3,27.5 103.9,26.3 102.6,25.1 101.2,23.8 99.8,22.6 98.4,21.3 97.1,20.2 95.7,19.1 94.3,18.1 93.0,17.2" fill="#1f77b4" stroke="#1f77b4" stroke-width="2.1" stroke-linejoin="round"/>
<polygon points="139.0,42.4 137.9,43.5 136.8,44.7 135.6,45.9 134.5,47.3 133.3,48.7 132.2,50.1 131.1,51.5 129.9,52.9 128.8,54.3 127.6,55.5 126.5,56.6 125.3,57.6 124.2,58.4 124.2,58.4 125.5,60.8 126.7,63.3 128.0,65.9 129.3,68.5 130.6,71.2 131.9,73.7 133.2,76.2 134.5,78.5 135.8,80.5 137.1,82.3 138.4,83.8 139.7,84.9 141.0,85.7 141.0,85.7 142.2,84.8 143.3,83.8 144.4,82.7 145.6,81.4 146.7,80.1 147.8,78.7 149.0,77.2 150.1,75.8 151.2,74.3 152.3,73.0 153.5,71.7 154.6,70.5 155.7,69.4 155.7,69.4 154.3,68.7 153.0,67.5 151.7,66.1 150.4,64.3 149.1,62.3 147.9,60.1 146.6,57.7 145.3,55.1 144.1,52.5 142.8,49.9 141.6,47.3 140.3,44.8 139.0,42.4" fill="#1f77b4" stroke="#1f77b4" stroke-width="2.1" stroke-linejoin="round"/>
<polygon points="54.7,45.6 53.6,48.1 52.6,50.7 51.5,53.3 50.5,56.0 49.5,58.7 48.4,61.4 47.4,63.9 46.3,66.2 45.3,68.3 44.2,70.2 43.1,71.7 42.0,72.9 40.9,73.8 40.9,73.8 42.2,74.8 43.6,75.9 45.0,77.1 46.4,78.3 47.7,79.7 49.1,81.0 50.5,82.4 51.9,83.7 53.3,85.0 54.7,86.1 56.1,87.2 57.5,88.1 58.8,88.8 58.8,88.8 60.0,88.0 61.1,86.7 62.1,85.1 63.2,83.3 64.3,81.1 65.4,78.8 66.4,76.2 67.5,73.6 68.5,70.9 69.6,68.1 70.7,65.4 71.7,62.8 72.8,60.3 72.8,60.3 71.4,59.6 70.0,58.7 68.6,57.7 67.2,56.6 65.8,55.4 64.4,54.1 63.0,52.7 61.6,51.4 60.2,50.1 58.8,48.8 57.4,47.7 56.1,46.6 54.7,45.6" fill="#1f77b4" stroke="#1f77b4" stroke-width="2.1" stroke-linejoin="round"/>
<polygon points="101.1,73.0 100.0,75.5 98.9,78.2 97.8,81.0 96.7,83.8 95.6,86.6 94.5,89.3 93.4,91.9 92.3,94.3 91.2,96.5 90.1,98.4 89.0,100.1 87.9,101.3 86.8,102.3 86.8,102.3 88.1,104.7 89.4,107.3 90.8,109.9 92.1,112.6 93.4,115.3 94.7,117.9 96.1,120.5 97.4,122.8 98.7,124.9 100.1,126.7 101.4,128.3 102.7,129.5 104.1,130.3 104.1,130.3 105.2,129.4 106.3,128.1 107.3,126.4 108.4,124.5 109.5,122.3 110.6,119.9 111.7,117.3 112.8,114.6 113.9,111.8 115.0,109.0 116.2,106.2 117.3,103.6 118.4,101.0 118.4,101.0 117.0,100.2 115.7,99.0 114.3,97.5 113.0,95.7 111.7,93.6 110.3,91.3 109.0,88.7 107.7,86.1 106.4,83.4 105.0,80.7 103.7,78.0 102.4,75.5 101.1,73.0" fill="#1f77b4" stroke="#1f77b4" stroke-width="2.1" stroke-linejoin="round"/>
<path d="M92.5 17.6h0M86.8 22.3h0M93.4 23.5h0M99.0 23.0h0M87.9 26.4h0M91.5 26.9h0M95.3 26.4h0M101.3 25.5h0M82.5 28.4h0M98.7 28.4h0M87.3 30.1h0M91.9 30.6h0M96.8 30.6h0M77.9 32.1h0M85.1 32.3h0M108.1 29.1h0M111.2 30.6h0M90.0 33.2h0M102.1 33.5h0M107.0 34.0h0M81.1 34.8h0M97.6 35.2h0M86.8 37.4h0M93.0 37.8h0M101.0 36.6h0M106.3 36.9h0M96.4 38.9h0M90.2 40.5h0M100.2 40.1h0M94.5 42.6h0M98.4 42.8h0M91.1 44.3h0M96.1 45.4h0M54.1 45.9h0M57.2 48.1h0M52.3 49.6h0M59.8 51.0h0M56.0 51.9h0M51.5 53.0h0M64.5 54.9h0M59.8 55.3h0M50.0 56.4h0M55.2 56.4h0M68.2 57.2h0M48.6 59.5h0M54.5 60.6h0M61.7 60.1h0M65.5 60.3h0M70.5 60.6h0M74.5 61.8h0M47.7 62.9h0M58.9 62.6h0M72.3 65.2h0M68.9 64.6h0M50.9 65.7h0M55.5 66.3h0M59.4 66.0h0M62.5 65.5h0M45.2 68.0h0M71.1 68.6h0M61.7 68.9h0M66.6 69.4h0M49.2 70.3h0M44.3 71.4h0M53.0 71.6h0M56.8 72.3h0M69.1 72.3h0M40.5 73.7h0M47.3 74.3h0M54.1 74.6h0M59.8 74.8h0M64.3 74.3h0M50.9 76.0h0M70.0 75.7h0M68.2 78.2h0M43.5 78.5h0M48.1 79.1h0M59.4 79.1h0M62.8 78.8h0M55.2 81.1h0M65.9 81.4h0M50.9 82.2h0M64.0 83.9h0M54.3 85.3h0M60.2 85.1h0M55.7 88.5h0M59.4 88.2h0M140.2 43.1h0M136.4 46.5h0M142.1 47.1h0M134.8 49.6h0M139.4 49.1h0M144.4 50.5h0M130.7 51.4h0M136.2 53.4h0M140.2 52.8h0M145.0 53.4h0M128.5 55.1h0M132.5 55.6h0M141.6 55.6h0M146.2 57.1h0M138.7 58.2h0M126.5 59.4h0M130.3 59.0h0M134.1 59.6h0M123.5 60.2h0M145.0 59.8h0M136.8 61.9h0M149.2 61.6h0M128.5 63.2h0M133.3 63.6h0M145.3 63.6h0M124.2 64.4h0M136.4 65.3h0M142.8 65.5h0M147.5 66.2h0M127.1 66.4h0M152.7 66.6h0M134.1 68.1h0M138.5 68.5h0M141.9 69.3h0M156.4 69.3h0M131.1 69.3h0M147.8 70.4h0M136.4 71.9h0M152.7 71.9h0M130.3 74.1h0M132.8 73.5h0M139.8 73.8h0M143.6 73.2h0M135.6 75.7h0M150.0 75.3h0M141.6 76.9h0M138.2 78.4h0M133.0 78.0h0M146.6 77.8h0M141.9 80.3h0M133.7 81.2h0M137.9 81.4h0M145.8 80.6h0M138.7 84.6h0M142.8 84.6h0M101.9 73.2h0M103.9 76.5h0M99.7 79.1h0M104.8 80.3h0M101.0 82.5h0M106.1 83.8h0M98.4 85.9h0M108.6 86.9h0M95.0 88.2h0M101.9 88.5h0M99.7 90.5h0M109.9 90.8h0M95.9 92.0h0M103.9 92.7h0M106.7 94.3h0M111.1 94.3h0M94.0 95.2h0M101.6 94.8h0M98.8 97.7h0M103.9 97.7h0M109.2 97.1h0M115.3 97.7h0M92.1 99.0h0M101.6 100.3h0M108.2 100.3h0M96.8 102.2h0M117.9 100.9h0M101.0 103.7h0M105.2 103.2h0M111.1 102.8h0M117.5 104.5h0M91.2 106.6h0M95.5 106.3h0M112.0 106.0h0M103.1 107.9h0M109.0 108.3h0M115.0 109.2h0M97.5 110.5h0M91.4 110.8h0M106.9 111.3h0M113.3 112.1h0M94.6 113.9h0M98.4 113.6h0M101.6 115.5h0M108.6 115.9h0M113.3 114.9h0M95.5 117.4h0M111.5 118.7h0M99.7 120.0h0M94.6 121.0h0M103.5 121.5h0M109.2 122.8h0M98.1 123.2h0M106.1 125.7h0M100.3 126.1h0M102.2 131.2h0M106.4 129.9h0" stroke="#f00" stroke-width="2.05" stroke-linecap="round" fill="none"/>
<rect x="113.8" y="2.1" width="54.1" height="19.6" rx="0.9" fill="#fff" fill-opacity="0.8" stroke="#ccc" stroke-width="0.5"/>
<circle cx="121.5" cy="8" r="0.85" fill="#1f77b4"/><circle cx="121.5" cy="17.1" r="0.85" fill="#f00"/>
<g font-size="6.8" fill="#222"><text x="131.6" y="9.8" textLength="33.6" lengthAdjust="spacingAndGlyphs">Pareto Front</text><text x="131.6" y="18.6" textLength="22" lengthAdjust="spacingAndGlyphs">Solution</text></g>
<text x="96.1" y="166.9" font-size="10.5" font-weight="bold" text-anchor="middle" fill="#111">(e)</text>
</g>
<g transform="translate(220.0,376.4)">
<polygon points="92.5,67.2 31.5,105.0 103.8,141.8 163.8,99.0" fill="#f5f5f5" stroke="#e4e4e4" stroke-width="0.4"/>
<polygon points="31.5,105.0 28.5,44.2 92.3,8.8 92.5,67.2" fill="#f1f1f1" stroke="#e4e4e4" stroke-width="0.4"/>
<polygon points="92.5,67.2 92.3,8.8 166.9,38.2 163.8,99.0" fill="#f8f8f8" stroke="#e8e8e8" stroke-width="0.4"/>
<path d="M160.8 101.1 L89.5 69.1 L89.2 10.6 M36.2 107.4 L97.1 69.3 L97.2 10.7 M149.2 109.4 L77.7 76.4 L76.8 17.4 M49.9 114.4 L110.7 75.3 L111.3 16.3 M137.3 117.9 L65.5 83.9 L64.1 24.5 M64.0 121.5 L124.6 81.6 L125.9 22.0 M125.0 126.6 L53.1 91.7 L51.1 31.7 M78.5 128.9 L138.9 87.9 L140.8 27.9 M112.4 135.6 L40.3 99.6 L37.7 39.2 M93.3 136.4 L153.5 94.4 L156.1 34.0 M31.5 103.5 L92.5 65.8 L163.8 97.5 M31.1 95.9 L92.5 58.4 L164.2 89.9 M30.7 88.2 L92.5 51.0 L164.6 82.2 M30.3 80.4 L92.4 43.5 L165.0 74.4 M29.9 72.5 L92.4 35.9 L165.5 66.5 M29.5 64.5 L92.4 28.3 L165.9 58.5 M29.1 56.4 L92.4 20.5 L166.3 50.4 M28.7 48.3 L92.3 12.7 L166.7 42.2" fill="none" stroke="#5c5c5c" stroke-width="0.38" stroke-linejoin="round"/>
<path d="M31.5 105.0 L103.8 141.8 M103.8 141.8 L163.8 99.0" fill="none" stroke="#111" stroke-width="0.7" stroke-linecap="round"/>
<path d="M31.5 105.0 L28.5 44.2" fill="none" stroke="#222" stroke-width="0.55" stroke-linecap="round"/>
<path d="M159.4 100.5 L162.3 101.8 M37.6 106.5 L34.9 108.2 M147.8 108.7 L150.7 110.1 M51.3 113.5 L48.6 115.2 M135.8 117.2 L138.7 118.6 M65.3 120.6 L62.7 122.4 M123.6 125.9 L126.5 127.3 M79.8 128.0 L77.1 129.8 M111.0 134.9 L113.8 136.3 M94.6 135.5 L92.0 137.4 M30.1 47.5 L27.3 49.0 M30.5 55.7 L27.7 57.2 M30.9 63.7 L28.1 65.3 M31.3 71.7 L28.5 73.3 M31.7 79.6 L28.9 81.2 M32.1 87.4 L29.3 89.0 M32.5 95.1 L29.7 96.7 M32.8 102.7 L30.1 104.4" fill="none" stroke="#000" stroke-width="0.55"/>
<g font-size="6.6" text-anchor="middle" fill="#333">
<text x="166.2" y="113.7">0.0</text>
<text x="31.4" y="120.4">0.0</text>
<text x="154.8" y="121.9">0.2</text>
<text x="45.0" y="127.2">0.2</text>
<text x="143.0" y="130.4">0.4</text>
<text x="59.1" y="134.8">0.4</text>
<text x="131.3" y="139.9">0.6</text>
<text x="73.0" y="142.2">0.6</text>
<text x="118.7" y="148.9">0.8</text>
<text x="88.2" y="149.8">0.8</text>
<text x="17.2" y="53.8" textLength="7.6" lengthAdjust="spacingAndGlyphs">6.0</text>
<text x="17.7" y="61.6" textLength="7.6" lengthAdjust="spacingAndGlyphs">5.5</text>
<text x="18.1" y="69.5" textLength="7.6" lengthAdjust="spacingAndGlyphs">5.0</text>
<text x="18.6" y="77.3" textLength="7.6" lengthAdjust="spacingAndGlyphs">4.5</text>
<text x="19.1" y="85.2" textLength="7.6" lengthAdjust="spacingAndGlyphs">4.0</text>
<text x="19.6" y="93.0" textLength="7.6" lengthAdjust="spacingAndGlyphs">3.5</text>
<text x="20.0" y="100.8" textLength="7.6" lengthAdjust="spacingAndGlyphs">3.0</text>
<text x="20.5" y="108.7" textLength="7.6" lengthAdjust="spacingAndGlyphs">2.5</text>
<text x="5.8" y="78.6" textLength="5.8" lengthAdjust="spacingAndGlyphs">F3</text><text x="55.7" y="143.8" textLength="6.2" lengthAdjust="spacingAndGlyphs">F2</text><text x="148.5" y="139.1" textLength="6.2" lengthAdjust="spacingAndGlyphs">F1</text>
</g>
<polygon points="93.0,17.2 91.8,18.2 90.7,19.3 89.5,20.5 88.4,21.8 87.2,23.1 86.1,24.5 84.9,25.8 83.8,27.2 82.6,28.4 81.4,29.6 80.3,30.7 79.1,31.6 77.9,32.3 77.9,32.3 79.3,33.3 80.6,34.3 82.0,35.4 83.3,36.6 84.7,37.9 86.0,39.1 87.4,40.4 88.7,41.7 90.1,42.9 91.5,43.9 92.8,44.9 94.2,45.7 95.6,46.4 95.6,46.4 96.7,45.6 97.9,44.7 99.0,43.6 100.2,42.4 101.4,41.1 102.5,39.7 103.7,38.3 104.8,36.9 106.0,35.6 107.1,34.3 108.3,33.0 109.4,31.9 110.6,30.9 110.6,30.9 109.2,30.2 107.8,29.4 106.5,28.5 105.1,27.4 103.8,26.3 102.4,25.0 101.1,23.8 99.7,22.5 98.4,21.3 97.0,20.1 95.7,19.0 94.3,18.0 93.0,17.2" fill="#1f77b4" stroke="#1f77b4" stroke-width="2.1" stroke-linejoin="round"/>
<polygon points="138.2,42.1 137.1,43.2 136.0,44.4 134.8,45.6 133.6,47.0 132.5,48.4 131.3,49.8 130.2,51.3 129.0,52.7 127.8,54.0 126.7,55.3 125.5,56.4 124.3,57.4 123.2,58.2 123.2,58.2 124.5,60.6 125.7,63.1 127.0,65.7 128.2,68.3 129.5,70.9 130.8,73.5 132.0,75.9 133.3,78.2 134.6,80.2 135.8,82.0 137.1,83.4 138.4,84.6 139.8,85.3 139.8,85.3 140.9,84.5 142.0,83.5 143.2,82.3 144.3,81.1 145.5,79.7 146.6,78.3 147.8,76.8 148.9,75.4 150.1,73.9 151.2,72.5 152.4,71.2 153.5,70.0 154.6,69.0 154.6,69.0 153.3,68.2 152.0,67.1 150.7,65.7 149.4,63.9 148.2,61.9 146.9,59.7 145.7,57.3 144.5,54.7 143.2,52.1 142.0,49.5 140.7,47.0 139.5,44.5 138.2,42.1" fill="#1f77b4" stroke="#1f77b4" stroke-width="2.1" stroke-linejoin="round"/>
<polygon points="54.1,46.0 53.0,48.4 52.0,51.0 50.9,53.7 49.9,56.4 48.8,59.1 47.7,61.8 46.7,64.3 45.6,66.6 44.5,68.8 43.4,70.6 42.3,72.2 41.2,73.4 40.1,74.2 40.1,74.2 41.4,75.2 42.8,76.3 44.1,77.5 45.5,78.8 46.8,80.1 48.2,81.4 49.6,82.8 50.9,84.1 52.3,85.3 53.7,86.5 55.0,87.5 56.4,88.4 57.8,89.2 57.8,89.2 58.9,88.3 60.0,87.0 61.1,85.5 62.2,83.6 63.3,81.4 64.4,79.1 65.5,76.5 66.5,73.8 67.6,71.1 68.7,68.4 69.8,65.6 70.9,63.0 71.9,60.5 71.9,60.5 70.6,59.8 69.2,59.0 67.8,58.0 66.4,56.8 65.1,55.6 63.7,54.3 62.3,53.0 60.9,51.7 59.6,50.4 58.2,49.1 56.8,48.0 55.5,46.9 54.1,46.0" fill="#1f77b4" stroke="#1f77b4" stroke-width="2.1" stroke-linejoin="round"/>
<polygon points="99.7,73.0 98.6,75.6 97.5,78.2 96.4,81.0 95.3,83.8 94.1,86.6 93.0,89.4 91.9,92.0 90.8,94.4 89.7,96.6 88.6,98.5 87.5,100.2 86.3,101.5 85.2,102.4 85.2,102.4 86.5,104.8 87.8,107.4 89.1,110.0 90.5,112.7 91.8,115.4 93.1,118.0 94.4,120.5 95.7,122.8 97.0,124.9 98.3,126.8 99.6,128.3 100.9,129.5 102.2,130.3 102.2,130.3 103.4,129.4 104.5,128.1 105.6,126.4 106.7,124.5 107.8,122.3 108.9,119.8 110.0,117.2 111.1,114.5 112.3,111.7 113.4,108.9 114.5,106.1 115.6,103.5 116.7,100.9 116.7,100.9 115.4,100.1 114.1,98.9 112.8,97.4 111.5,95.6 110.2,93.5 108.8,91.2 107.5,88.7 106.2,86.1 104.9,83.4 103.6,80.7 102.3,78.0 101.0,75.4 99.7,73.0" fill="#1f77b4" stroke="#1f77b4" stroke-width="2.1" stroke-linejoin="round"/>
<path d="M93.4 17.0h0M91.1 19.3h0M96.1 18.5h0M87.7 21.5h0M91.9 23.0h0M96.4 23.2h0M100.2 23.8h0M85.4 24.9h0M89.3 25.7h0M105.9 27.8h0M84.3 27.2h0M97.9 26.9h0M80.5 30.1h0M84.5 30.6h0M90.2 30.1h0M94.5 31.0h0M98.4 30.6h0M102.7 29.5h0M110.6 30.6h0M77.5 32.1h0M81.7 33.2h0M103.2 33.5h0M98.4 34.0h0M85.4 35.2h0M107.5 35.2h0M80.5 36.6h0M89.3 37.4h0M94.7 37.8h0M100.4 36.6h0M86.2 38.9h0M105.0 38.6h0M96.4 40.3h0M100.6 40.1h0M89.6 41.4h0M86.2 43.1h0M99.5 43.5h0M92.5 44.3h0M95.3 46.2h0M53.8 46.4h0M58.3 48.7h0M51.8 49.6h0M50.7 54.4h0M58.6 55.3h0M65.5 56.9h0M48.4 57.6h0M56.0 58.9h0M62.0 59.8h0M71.4 60.6h0M50.9 60.6h0M63.2 62.9h0M67.7 63.2h0M45.8 64.0h0M52.3 64.0h0M57.7 64.4h0M63.6 66.6h0M67.7 66.6h0M47.3 68.0h0M51.1 68.0h0M60.2 68.0h0M56.8 68.9h0M43.5 68.9h0M63.6 70.5h0M67.4 70.5h0M41.8 71.6h0M50.0 73.5h0M56.6 72.3h0M60.2 72.6h0M65.9 73.7h0M39.5 74.6h0M44.3 74.6h0M57.7 75.4h0M62.5 75.7h0M54.5 77.7h0M60.2 78.2h0M42.7 78.0h0M63.4 78.8h0M46.4 79.6h0M51.8 80.3h0M55.7 80.7h0M49.2 82.2h0M60.9 82.2h0M54.9 84.1h0M50.0 85.1h0M60.2 86.4h0M54.3 88.5h0M56.6 90.2h0M138.7 42.0h0M135.0 48.2h0M138.5 48.0h0M141.3 49.4h0M130.7 50.7h0M139.6 52.2h0M143.9 52.6h0M132.8 53.4h0M128.8 55.6h0M135.6 55.6h0M142.1 55.1h0M123.7 59.0h0M138.7 58.5h0M143.6 58.2h0M146.2 57.9h0M127.1 60.7h0M132.2 61.0h0M136.0 61.0h0M148.5 61.3h0M143.2 62.8h0M133.9 63.9h0M147.0 64.4h0M150.4 64.7h0M127.3 66.2h0M133.3 67.0h0M141.3 67.8h0M145.3 67.0h0M130.3 68.5h0M153.2 67.8h0M137.9 69.3h0M141.6 71.2h0M145.5 71.0h0M152.1 71.9h0M126.9 72.1h0M134.8 72.3h0M130.7 73.8h0M137.5 74.1h0M143.9 74.9h0M130.3 76.9h0M139.0 76.9h0M150.0 76.6h0M133.3 78.4h0M145.3 81.0h0M136.2 82.9h0M132.8 84.0h0M142.4 83.7h0M139.4 86.0h0M99.3 73.6h0M97.5 77.0h0M100.1 79.9h0M103.9 79.3h0M95.9 82.5h0M103.5 83.8h0M106.7 87.6h0M95.9 86.9h0M94.6 90.8h0M100.1 90.5h0M104.4 93.3h0M112.0 95.2h0M92.7 95.8h0M97.8 96.9h0M107.3 97.1h0M113.3 99.0h0M87.6 100.7h0M92.7 100.7h0M99.1 99.9h0M103.1 100.7h0M116.9 101.2h0M108.2 101.2h0M84.8 103.2h0M93.0 104.1h0M101.4 104.5h0M112.0 103.2h0M108.2 104.7h0M115.3 104.7h0M85.7 106.3h0M98.8 107.0h0M113.7 109.2h0M91.7 109.6h0M96.8 110.8h0M101.0 110.5h0M106.4 109.2h0M110.3 110.5h0M88.3 110.8h0M106.7 112.6h0M93.7 114.3h0M99.1 114.9h0M104.2 115.5h0M112.0 114.9h0M90.8 117.2h0M95.9 118.1h0M101.0 118.5h0M109.5 119.4h0M98.4 121.0h0M103.1 121.0h0M107.7 122.8h0M93.3 121.5h0M101.0 124.4h0M108.6 125.7h0M98.8 128.9h0M105.2 127.9h0M101.9 130.4h0" stroke="#f00" stroke-width="2.05" stroke-linecap="round" fill="none"/>
<rect x="113.8" y="2.1" width="54.1" height="19.6" rx="0.9" fill="#fff" fill-opacity="0.8" stroke="#ccc" stroke-width="0.5"/>
<circle cx="121.5" cy="8" r="0.85" fill="#1f77b4"/><circle cx="121.5" cy="17.1" r="0.85" fill="#f00"/>
<g font-size="6.8" fill="#222"><text x="131.6" y="9.8" textLength="33.6" lengthAdjust="spacingAndGlyphs">Pareto Front</text><text x="131.6" y="18.6" textLength="22" lengthAdjust="spacingAndGlyphs">Solution</text></g>
<text x="96.1" y="166.9" font-size="10.5" font-weight="bold" text-anchor="middle" fill="#111">(f)</text>
</g>
</svg>
</body></html>
